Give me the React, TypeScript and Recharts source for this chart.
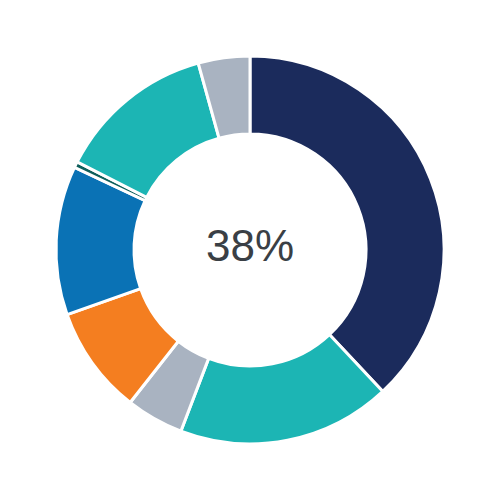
import { Cell, Label, Pie, PieChart } from "recharts";

const segments = ["A", "B", "C", "D", "E", "F", "G", "H"];
const shares = [38, 17.8, 4.8, 9.0, 12.4, 0.5, 13.2, 4.3];
const colors = ["#1b2b5c", "#1cb5b4", "#a9b3c1", "#f47e20", "#0a72b5", "#0e5f5c", "#1cb5b4", "#a9b3c1"];
const centerText = "38%";

const data = segments.map((name, i) => ({ name, value: shares[i] }));

const CX = 250;
const CY = 250;

// centre figure, nudged up a touch like the original
function CenterLabel() {
  return (
    <text
      x={CX}
      y={CY - 5}
      textAnchor="middle"
      dominantBaseline="central"
      fill="#3a3f45"
      fontSize={44}
      fontFamily="'Liberation Sans', Arial, sans-serif"
    >
      {centerText}
    </text>
  );
}

export default function App() {
  return (
    <div style={{ position: "absolute", left: 0, top: 0, width: 500, height: 500, background: "#fff" }}>
      <PieChart width={500} height={500} margin={{ top: 0, right: 0, bottom: 0, left: 0 }}>
        <Pie
          data={data}
          dataKey="value"
          nameKey="name"
          cx={CX}
          cy={CY}
          innerRadius={116}
          outerRadius={194}
          startAngle={90}
          endAngle={-270}
          stroke="#ffffff"
          strokeWidth={3}
          isAnimationActive={false}
        >
          {data.map((d, i) => (
            <Cell key={d.name} fill={colors[i]} />
          ))}
          <Label position="center" content={CenterLabel} />
        </Pie>
      </PieChart>
    </div>
  );
}
